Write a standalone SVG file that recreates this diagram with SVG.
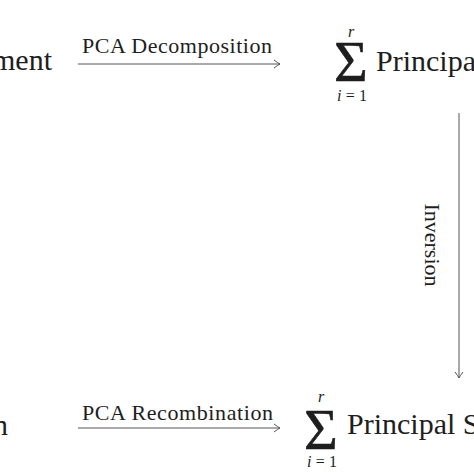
<svg xmlns="http://www.w3.org/2000/svg" width="474" height="474" viewBox="0 0 474 474">
  <style>
    .t { font-family: "Liberation Serif", "DejaVu Serif", serif; fill: #1e1e1e; }
    .main { font-size: 30px; }
    .lbl { font-size: 22px; }
    .sig { font-size: 58px; stroke: #1e1e1e; stroke-width: 0.6; }
    .lim { font-size: 16px; }
    .edge { stroke: #555; stroke-width: 1; fill: none; }
  </style>
  <defs>
    <marker id="ah" markerUnits="userSpaceOnUse" markerWidth="12" markerHeight="12" viewBox="-8 -6 10 12" refX="0" refY="0" orient="auto">
      <path d="M -6 -4 Q -2 -1 0 0 Q -2 1 -6 4" stroke="#555" stroke-width="1" fill="none"/>
    </marker>
  </defs>
  <rect width="474" height="474" fill="#fff"/>

  <g id="node-top-left">
    <text class="t main" x="52" y="70" text-anchor="end">ment</text>
  </g>

  <g id="node-top-right">
    <text class="t sig" x="334" y="81">Σ</text>
    <text class="t lim" x="351" y="37" text-anchor="middle" font-style="italic">r</text>
    <text class="t lim" x="337" y="101" textLength="30"><tspan font-style="italic">i</tspan>=1</text>
    <text class="t main" x="376" y="71" font-size="29">Principal</text>
  </g>

  <g id="node-bottom-left">
    <text class="t main" x="8" y="435" text-anchor="end">n</text>
  </g>

  <g id="node-bottom-right">
    <text class="t sig" x="304" y="449">Σ</text>
    <text class="t lim" x="321" y="402" text-anchor="middle" font-style="italic">r</text>
    <text class="t lim" x="307" y="467" textLength="30"><tspan font-style="italic">i</tspan>=1</text>
    <text class="t main" x="347" y="434">Principal S</text>
  </g>

  <g id="connectors">
    <line class="edge" x1="78" y1="64" x2="280" y2="64" marker-end="url(#ah)"/>
    <text class="t lbl" x="82" y="53" textLength="190">PCA Decomposition</text>
    <line class="edge" x1="459" y1="113" x2="459" y2="378" marker-end="url(#ah)"/>
    <text class="t lbl" transform="translate(425,245) rotate(90)" text-anchor="middle">Inversion</text>
    <line class="edge" x1="78" y1="428" x2="280" y2="428" marker-end="url(#ah)"/>
    <text class="t lbl" x="82" y="420" textLength="191">PCA Recombination</text>
  </g>
</svg>
